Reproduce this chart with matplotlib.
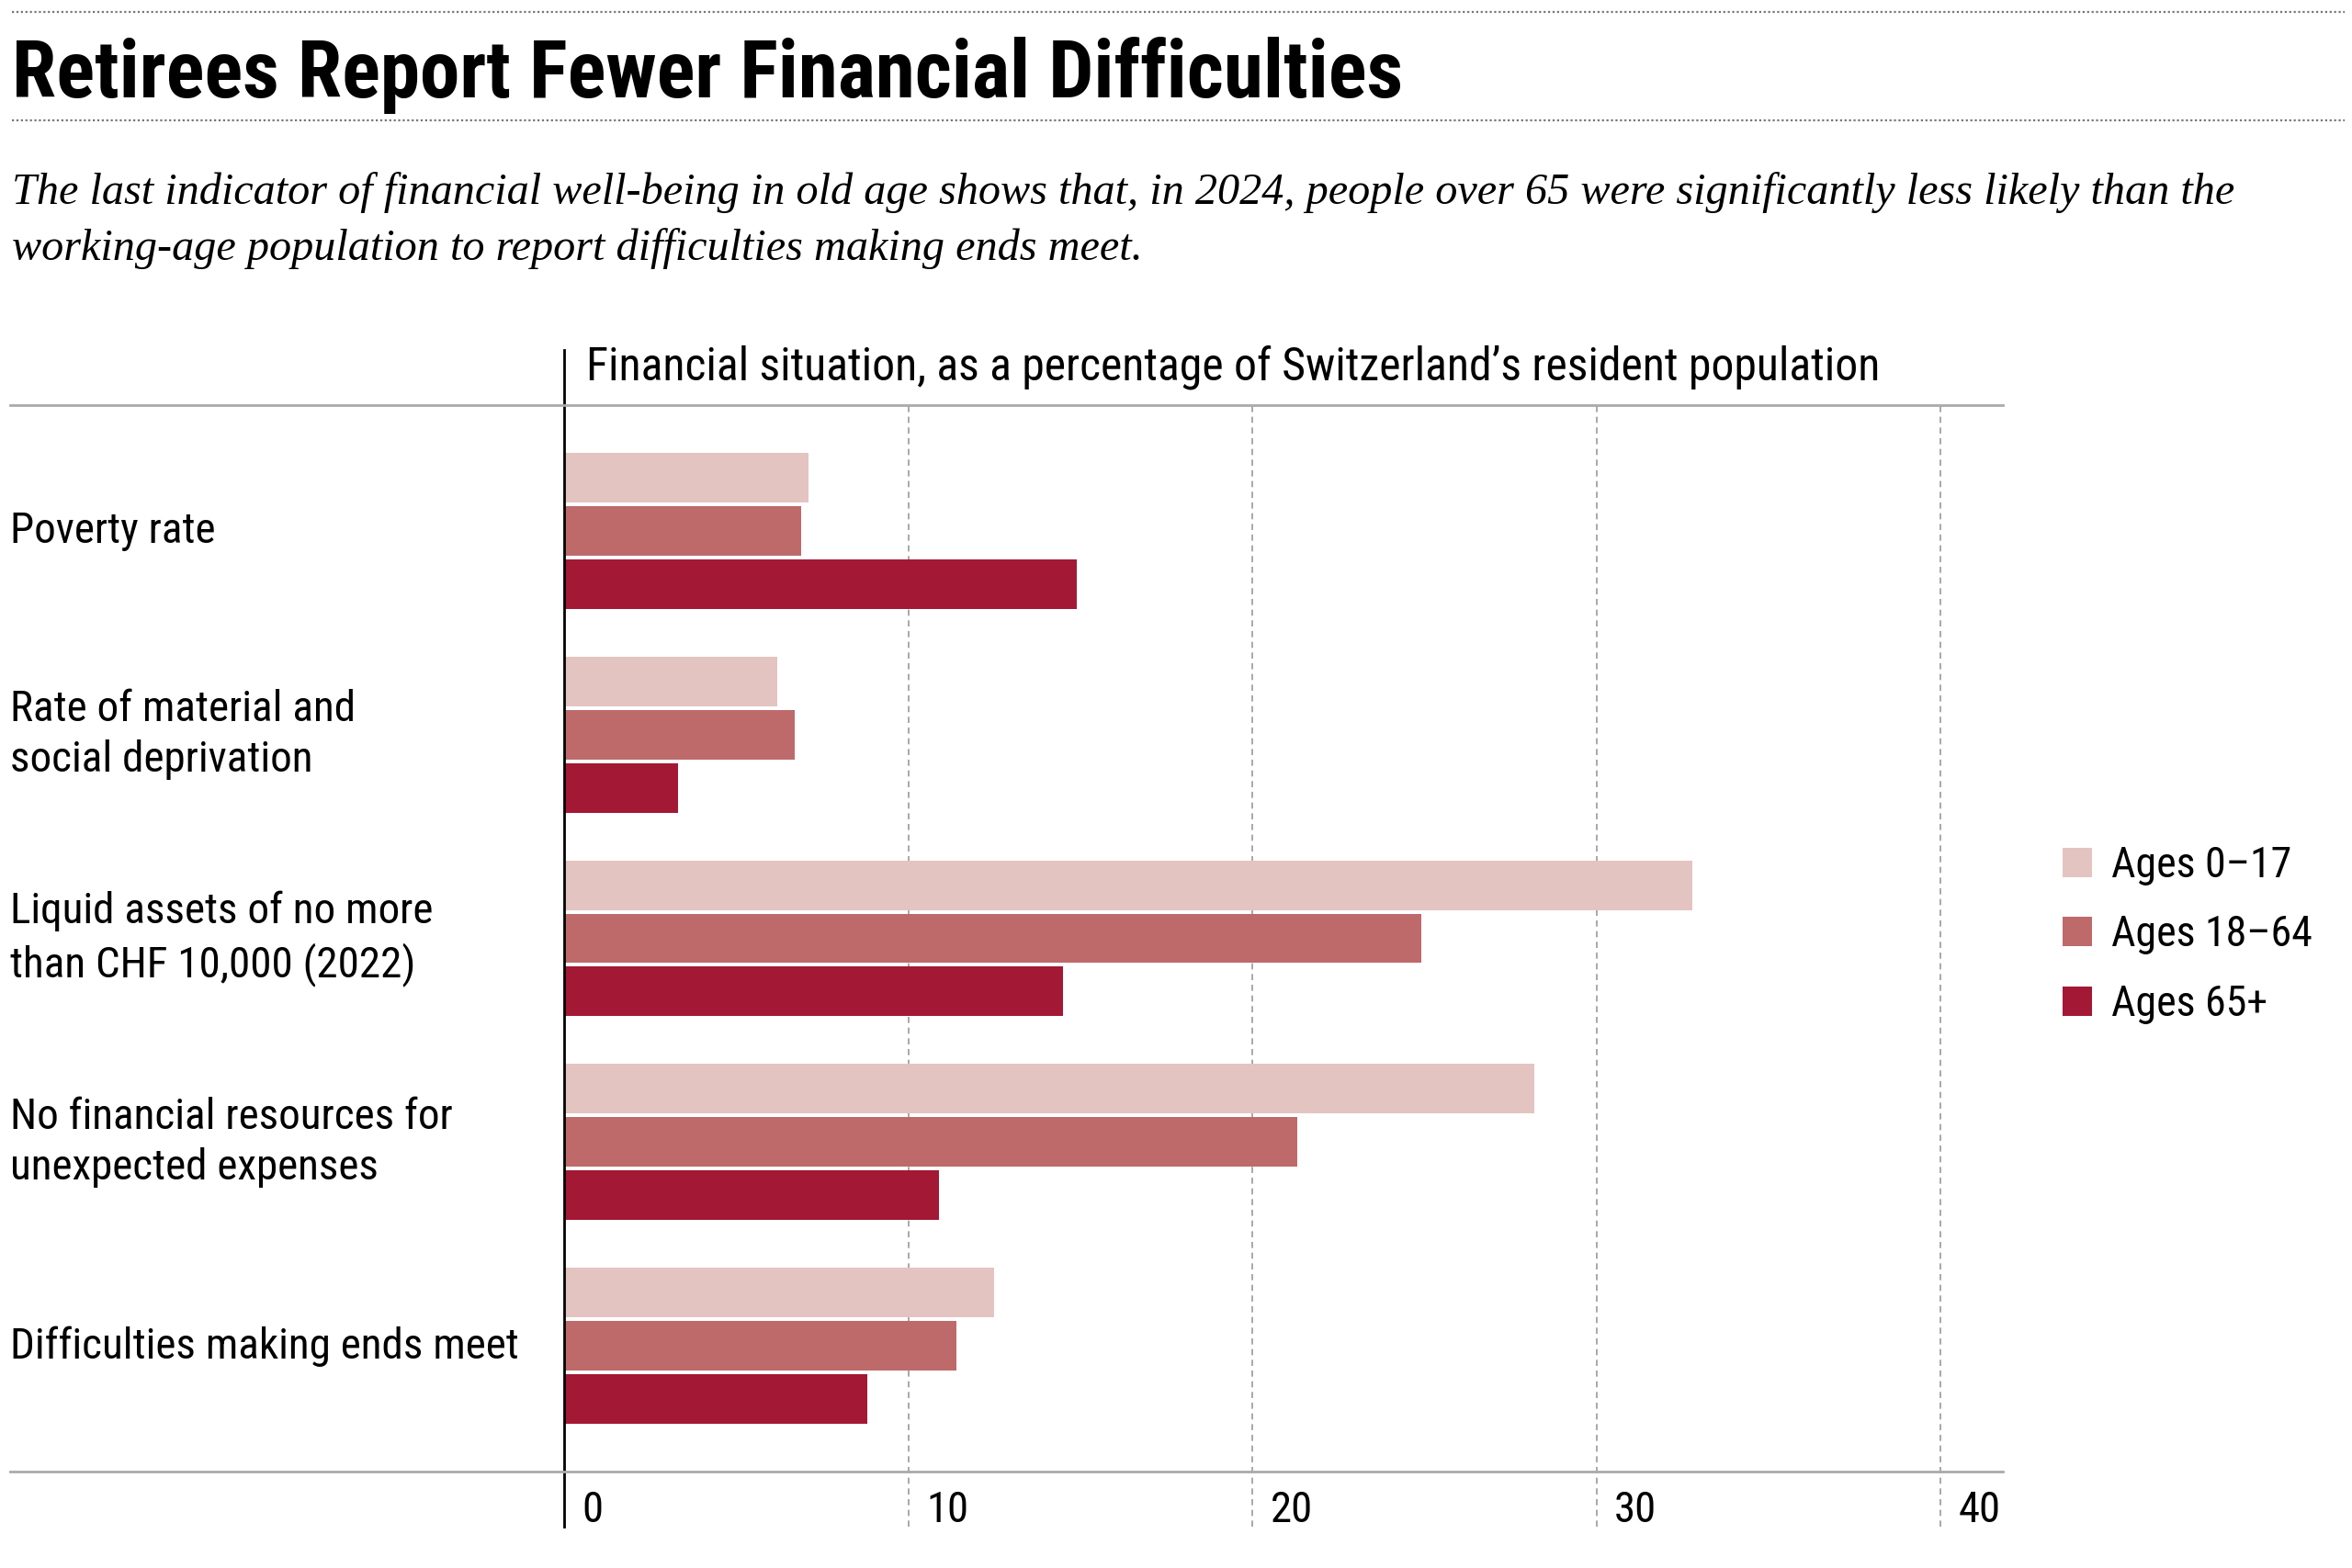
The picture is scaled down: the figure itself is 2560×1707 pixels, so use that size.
import matplotlib
matplotlib.use("Agg")
import matplotlib.pyplot as plt
import matplotlib.transforms as mtransforms
from matplotlib import font_manager
from matplotlib.lines import Line2D
import numpy as np

categories = [
    "Poverty rate",
    "Rate of material and\nsocial deprivation",
    "Liquid assets of no more\nthan CHF 10,000 (2022)",
    "No financial resources for\nunexpected expenses",
    "Difficulties making ends meet",
]
series_names = ["Ages 0\u201317", "Ages 18\u201364", "Ages 65+"]
ages_0_17 = [7.1, 6.2, 32.8, 28.2, 12.5]
ages_18_64 = [6.9, 6.7, 24.9, 21.3, 11.4]
ages_65_plus = [14.9, 3.3, 14.5, 10.9, 8.8]
xticks = [0, 10, 20, 30, 40]

colors = ["#e3c4c1", "#be6a6b", "#a31834"]
serif = ["Liberation Serif", "DejaVu Serif"]

# look for a condensed sans face, otherwise fall back to DejaVu Sans
found = []
for f in font_manager.fontManager.ttflist:
    n = f.name.lower()
    st = str(f.stretch).lower()
    if "condensed" in n or "narrow" in n or "condensed" in st:
        if "serif" not in n and "mono" not in n and "italic" not in f.style:
            found.append(f)
pref = ["liberation sans narrow", "roboto condensed", "dejavu sans", "noto sans", "open sans", "inter", "lato"]
found.sort(key=lambda f: next((i for i, p in enumerate(pref) if f.name.lower().startswith(p)), 99))
if found:
    cond = {"family": [found[0].name, "DejaVu Sans"], "stretch": found[0].stretch}
    fs = 16.5
else:
    cond = {"family": ["DejaVu Sans"], "stretch": "normal"}
    fs = 13.5

W, H, DPI = 2560, 1707, 200
fig = plt.figure(figsize=(W / DPI, H / DPI), dpi=DPI)

def fx(px):
    return px / W

def fy(py):
    return 1 - py / H

# axes area in pixels
ax_l, ax_r, ax_t, ax_b = 614, 2180, 441, 1602
ax = fig.add_axes([fx(ax_l), fy(ax_b), fx(ax_r - ax_l), (ax_b - ax_t) / H])

bar_pitch = 58 / 222
bar_h = 54 / 222
y = np.arange(len(categories))
for j, (vals, name) in enumerate(zip([ages_0_17, ages_18_64, ages_65_plus], series_names)):
    ax.barh(y + (j - 1) * bar_pitch, vals, height=bar_h, color=colors[j], label=name, zorder=3)

ax.set_xlim(0, (ax_r - ax_l) / 37.45)
ax.set_ylim(len(categories) - 1 + 0.615, -0.615)
for s in ax.spines.values():
    s.set_visible(False)
ax.set_xticks([])
ax.set_yticks([])

ext = 60 / (ax_b - ax_t)
for t in xticks[1:]:
    ax.axvline(t, ymin=-ext, ymax=1, color="#999999", lw=0.6, ls=(0, (4, 3)), clip_on=False, zorder=1)
ax.axvline(0, ymin=-ext, ymax=1 + ext, color="black", lw=1.0, clip_on=False, zorder=4)

tick_tr = mtransforms.offset_copy(ax.get_xaxis_transform(), fig=fig, x=7, y=0, units="points")
for t in xticks:
    ax.text(t, -0.036, str(t), transform=tick_tr, ha="left", va="center",
            fontsize=fs * 1.02, family=cond["family"], fontstretch=cond["stretch"])

# top and bottom rules across label area
for py in (ax_t, ax_b):
    fig.add_artist(Line2D([fx(11), fx(ax_r)], [fy(py), fy(py)], color="#aaaaaa", lw=1.0))

# dotted header rules
for py in (13, 131):
    fig.add_artist(Line2D([fx(13), fx(2552)], [fy(py), fy(py)], color="#777777", lw=0.8, ls=(0, (1, 1.2))))

fig.text(fx(13), fy(106), "Retirees Report Fewer Financial Difficulties", fontsize=fs * 31.4 / 16.5,
         fontweight="bold", family=cond["family"], fontstretch=cond["stretch"], va="baseline")
fig.text(fx(13), fy(222), "The last indicator of financial well-being in old age shows that, in 2024, people over 65 "
         "were significantly less likely than the", fontsize=17.4, style="italic", family=serif, va="baseline")
fig.text(fx(13), fy(283), "working-age population to report difficulties making ends meet.",
         fontsize=17.4, style="italic", family=serif, va="baseline")
fig.text(fx(638), fy(413), "Financial situation, as a percentage of Switzerland\u2019s resident population",
         fontsize=fs * 17.9 / 16.5, family=cond["family"], fontstretch=cond["stretch"], va="baseline")

lab_tr = mtransforms.blended_transform_factory(fig.transFigure, ax.transData)
for i, c in enumerate(categories):
    ax.text(fx(11), i, c, transform=lab_tr, ha="left", va="center", fontsize=fs * 1.03,
            family=cond["family"], fontstretch=cond["stretch"], linespacing=1.32)

ax.legend(loc="upper left", bbox_to_anchor=(fx(2245), fy(920)), bbox_transform=fig.transFigure,
          frameon=False, prop={"family": cond["family"], "stretch": cond["stretch"], "size": fs},
          handlelength=0.7, handleheight=0.7, handletextpad=0.45, labelspacing=0.685,
          borderpad=0, borderaxespad=0)

fig.savefig("out.png", dpi=DPI)
